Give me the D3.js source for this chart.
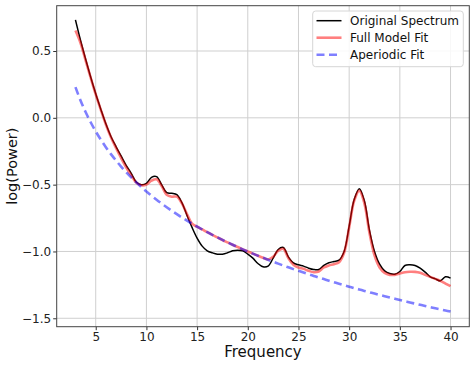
<!DOCTYPE html>
<html>
<head>
<meta charset="utf-8">
<script src="https://cdn.jsdelivr.net/npm/d3@7"></script>
<style>
  html, body { margin: 0; padding: 0; background: #fff; }
  svg { display: block; font-family: "DejaVu Sans", sans-serif; }
</style>
</head>
<body>
<svg id="chart" width="474" height="365"></svg>
<script>
// ---- data ----
const freqs = [3,3.5,4,4.5,5,5.5,6,6.5,7,7.5,8,8.5,9,9.5,10,10.5,11,11.5,12,12.5,13,13.5,14,14.5,15,15.5,16,16.5,17,17.5,18,18.5,19,19.5,20,20.5,21,21.5,22,22.5,23,23.5,24,24.5,25,25.5,26,26.5,27,27.5,28,28.5,29,29.5,30,30.5,31,31.5,32,32.5,33,33.5,34,34.5,35,35.5,36,36.5,37,37.5,38,38.5,39,39.5,40];

const originalSpectrum = [0.733,0.58,0.44,0.305,0.18,0.065,-0.045,-0.14,-0.215,-0.285,-0.355,-0.415,-0.48,-0.5,-0.49,-0.445,-0.44,-0.5,-0.56,-0.565,-0.575,-0.635,-0.73,-0.82,-0.9,-0.96,-0.995,-1.01,-1.02,-1.02,-1.01,-0.995,-0.99,-0.995,-1.02,-1.05,-1.09,-1.115,-1.11,-1.05,-0.985,-0.97,-1.04,-1.085,-1.1,-1.11,-1.125,-1.135,-1.135,-1.105,-1.085,-1.075,-1.065,-1.0,-0.81,-0.61,-0.53,-0.62,-0.84,-1.0,-1.095,-1.145,-1.165,-1.17,-1.15,-1.105,-1.1,-1.105,-1.125,-1.155,-1.19,-1.205,-1.22,-1.19,-1.2];

const fullModelFit = [0.653,0.56,0.43,0.3,0.175,0.06,-0.05,-0.145,-0.225,-0.3,-0.37,-0.43,-0.485,-0.505,-0.5,-0.47,-0.46,-0.51,-0.575,-0.59,-0.59,-0.64,-0.72,-0.792,-0.815,-0.835,-0.856,-0.876,-0.895,-0.914,-0.932,-0.95,-0.967,-0.984,-1.0,-1.016,-1.032,-1.047,-1.06,-1.04,-0.995,-0.98,-1.05,-1.1,-1.12,-1.13,-1.145,-1.155,-1.15,-1.12,-1.105,-1.095,-1.08,-1.01,-0.82,-0.62,-0.545,-0.64,-0.86,-1.03,-1.12,-1.16,-1.175,-1.175,-1.165,-1.155,-1.152,-1.153,-1.16,-1.175,-1.19,-1.205,-1.22,-1.24,-1.26];

const aperiodicFit = [0.2296,0.1297,0.0431,-0.0332,-0.1016,-0.1634,-0.2198,-0.2717,-0.3197,-0.3645,-0.4063,-0.4456,-0.4826,-0.5177,-0.551,-0.5827,-0.6128,-0.6416,-0.6692,-0.6957,-0.7211,-0.7455,-0.7691,-0.792,-0.8139,-0.8351,-0.8557,-0.8757,-0.895,-0.9138,-0.9322,-0.9499,-0.9672,-0.984,-1.0004,-1.0165,-1.032,-1.0473,-1.0622,-1.0768,-1.091,-1.1051,-1.1186,-1.1321,-1.1451,-1.1579,-1.1706,-1.1828,-1.1951,-1.2069,-1.2187,-1.23,-1.2414,-1.2524,-1.2633,-1.2741,-1.2846,-1.295,-1.3051,-1.3153,-1.3251,-1.3348,-1.3445,-1.3539,-1.3633,-1.3724,-1.3816,-1.3905,-1.3993,-1.408,-1.4166,-1.4252,-1.4335,-1.4417,-1.4499];

const xTicks = [5,10,15,20,25,30,35,40];
const yTicks = [-1.5,-1.0,-0.5,0.0,0.5];
const seriesNames = ["Original Spectrum","Full Model Fit","Aperiodic Fit"];

// ---- layout ----
const svg = d3.select("#chart");
const L = 56.7, R = 469.3, T = 5.7, B = 326.7;

const x = d3.scaleLinear().domain([1.15, 41.85]).range([L, R]);
const y = d3.scaleLinear().domain([-1.563, 0.839]).range([B, T]);

const fmt = v => d3.format(".1f")(v).replace("-", "\u2212");

// grid
const grid = svg.append("g");
grid.selectAll("line.gx").data(xTicks).join("line")
  .attr("x1", d => x(d)).attr("x2", d => x(d))
  .attr("y1", T).attr("y2", B)
  .attr("stroke", "#cfcfcf").attr("stroke-width", 1);
grid.selectAll("line.gy").data(yTicks).join("line")
  .attr("x1", L).attr("x2", R)
  .attr("y1", d => y(d)).attr("y2", d => y(d))
  .attr("stroke", "#cfcfcf").attr("stroke-width", 1);

// lines
const mk = arr => d3.line()
  .x((d, i) => x(freqs[i]))
  .y(d => y(d))
  .curve(d3.curveCatmullRom.alpha(0.5))(arr);

const plot = svg.append("g");
plot.append("path").attr("d", mk(originalSpectrum))
  .attr("fill", "none").attr("stroke", "#000").attr("stroke-width", 1.5);
plot.append("path").attr("d", mk(fullModelFit))
  .attr("fill", "none").attr("stroke", "red").attr("stroke-opacity", 0.5).attr("stroke-width", 2.6);
plot.append("path").attr("d", mk(aperiodicFit))
  .attr("fill", "none").attr("stroke", "blue").attr("stroke-opacity", 0.5).attr("stroke-width", 2.6)
  .attr("stroke-dasharray", "8,4.5");

// axes
const xAxis = d3.axisBottom(x).tickValues(xTicks).tickSize(3.5).tickPadding(2).tickFormat(d3.format("d"));
const yAxis = d3.axisLeft(y).tickValues(yTicks).tickSize(3.5).tickPadding(2).tickFormat(fmt);

const gx = svg.append("g").attr("transform", `translate(0,${B})`).call(xAxis);
const gy = svg.append("g").attr("transform", `translate(${L},0)`).call(yAxis);
[gx, gy].forEach(g => {
  g.select(".domain").remove();
  g.selectAll(".tick line").attr("stroke", "#333");
  g.selectAll(".tick text").attr("fill", "#222").style("font-size", "12px").style("font-family", "DejaVu Sans");
});

// frame
svg.append("rect").attr("x", L).attr("y", T).attr("width", R - L).attr("height", B - T)
  .attr("fill", "none").attr("stroke", "#444").attr("stroke-width", 1);

// axis labels
svg.append("text").attr("x", (L + R) / 2).attr("y", 356.5)
  .attr("text-anchor", "middle").style("font-size", "15px").attr("fill", "#111")
  .text("Frequency");
svg.append("text").attr("transform", `translate(16.5,${(T + B) / 2}) rotate(-90)`)
  .attr("text-anchor", "middle").style("font-size", "14.5px").attr("fill", "#111")
  .text("log(Power)");

// legend
const lg = svg.append("g");
lg.append("rect").attr("x", 312.7).attr("y", 11).attr("width", 150.6).attr("height", 55.7)
  .attr("rx", 3).attr("fill", "#fff").attr("fill-opacity", 0.85)
  .attr("stroke", "#d6d6d6").attr("stroke-width", 1);
const styles = [
  {stroke: "#000", op: 1, w: 1.5, dash: null},
  {stroke: "red", op: 0.5, w: 2.6, dash: null},
  {stroke: "blue", op: 0.5, w: 2.6, dash: "8,4.5"}
];
seriesNames.forEach((name, i) => {
  const yy = 20.7 + i * 17;
  const s = styles[i];
  lg.append("line").attr("x1", 316.5).attr("x2", 341.5).attr("y1", yy).attr("y2", yy)
    .attr("stroke", s.stroke).attr("stroke-opacity", s.op).attr("stroke-width", s.w)
    .attr("stroke-dasharray", s.dash);
  lg.append("text").attr("x", 350).attr("y", yy).attr("dy", "0.35em")
    .style("font-size", "12px").attr("fill", "#111").text(name);
});
</script>
</body>
</html>
